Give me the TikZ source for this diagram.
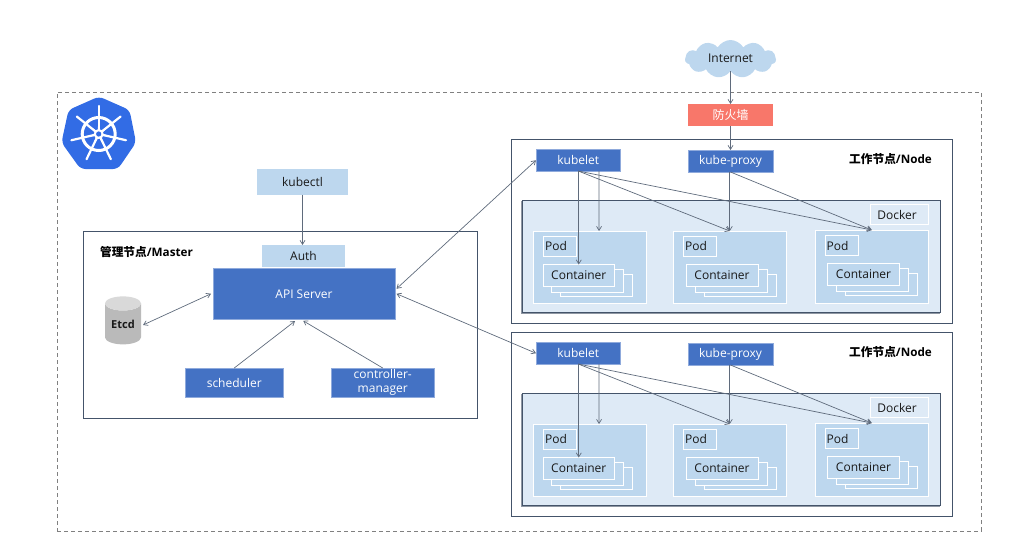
\documentclass[tikz,border=0pt]{standalone}
\usepackage{fontspec}
\setmainfont{Open Sans}
\newfontfamily\cjk{Noto Sans CJK SC}
\usetikzlibrary{arrows.meta,shapes.geometric,shapes.symbols}
\definecolor{kblue}{HTML}{4472C4}
\definecolor{kpale}{HTML}{BDD7EE}
\definecolor{kpanel}{HTML}{DEEAF6}
\definecolor{kdark}{HTML}{44546A}
\definecolor{kline}{HTML}{5F6B7C}
\definecolor{kred}{HTML}{F8776A}
\definecolor{klogo}{HTML}{326CE5}
\tikzset{
  base/.style={inner sep=0pt,outer sep=0pt,align=center,font=\fontsize{12}{13.5}\selectfont,text=black!90},
  darkbox/.style={base,fill=kblue,draw=kblue!60,line width=.5pt,text=white},
  palebox/.style={base,fill=kpale},
  whitebox/.style={base,fill=kpale,draw=white,line width=1pt},
  framebox/.style={base,draw=kdark,line width=1pt},
  panelbox/.style={base,fill=kpanel,draw=kdark,line width=1pt},
  docbox/.style={base,fill=kpanel,draw=white,line width=1pt},
  redbox/.style={base,fill=kred,text=white},
  title/.style={font=\fontsize{11.7}{13}\selectfont\bfseries,inner sep=0pt,text=black},
  conn/.style={draw=kline,line width=.7pt,-{Straight Barb[length=4pt,width=5pt]}},
  conn2/.style={draw=kline,line width=.7pt,{Straight Barb[length=4pt,width=5pt]}-{Straight Barb[length=4pt,width=5pt]}}
}
\newcommand\bx[7]{%
  \pgfmathsetmacro\bxw{#5-#3}\pgfmathsetmacro\bxh{#6-#4}%
  \pgfmathsetmacro\bxx{(#5+#3)/2}\pgfmathsetmacro\bxy{(#6+#4)/2}%
  \node[#1,minimum width=\bxw pt,minimum height=\bxh pt] (#2) at (\bxx,\bxy) {#7};}
\newcommand\podtxt{Pod\hspace*{8pt}}
\newcommand\workernode[2]{% prefix, y shift
\begin{scope}[yshift=-#2pt]
  \bx{framebox}{#1frame}{511.5}{139.5}{952.5}{323}{}
  \fill[kline!70] (521,201) rectangle (940,313.5);
  \bx{panelbox}{#1panel}{522}{200}{940.5}{312.5}{}
  \bx{docbox}{#1docker}{870}{204.5}{928}{224.5}{Docker\hspace*{4pt}}
  \bx{whitebox}{#1podA}{533}{231}{646.5}{303}{}
  \bx{whitebox}{#1podB}{673.5}{231}{786}{303}{}
  \bx{whitebox}{#1podC}{815.5}{230}{928}{303}{}
  \bx{whitebox}{#1plA}{543.5}{236.5}{576.5}{256}{\podtxt}
  \bx{whitebox}{#1plB}{683.5}{236.5}{716.5}{256}{\podtxt}
  \bx{whitebox}{#1plC}{825}{235.5}{858}{255.5}{\podtxt}
  \bx{whitebox}{#1cAc}{560.5}{274}{632.5}{296.5}{}
  \bx{whitebox}{#1cAb}{551.5}{269.5}{623.5}{292}{}
  \bx{whitebox}{#1cA}{543}{264.5}{614.5}{286.5}{Container}
  \bx{whitebox}{#1cBc}{704}{274}{776}{296.5}{}
  \bx{whitebox}{#1cBb}{695}{269.5}{767}{292}{}
  \bx{whitebox}{#1cB}{686}{264.5}{758}{286.5}{Container}
  \bx{whitebox}{#1cCc}{845.5}{273}{917.5}{295.5}{}
  \bx{whitebox}{#1cCb}{836.5}{268.5}{908.5}{291}{}
  \bx{whitebox}{#1cC}{827.5}{263.5}{899.5}{285.5}{Container}
  \bx{darkbox}{#1kl}{536}{149.5}{620.5}{171}{kubelet}
  \bx{darkbox}{#1kp}{688}{150}{773}{172}{kube-proxy}
  \node[title] (#1title) at (890.5,159) {{\cjk 工作节点}/Node};
  \draw[conn] (#1cA.north |- #1kl.south) -- (#1cA.north);
  \draw[conn] ([xshift=20.7pt]#1kl.south) -- ([xshift=9.3pt]#1podA.north);
  \draw[conn] (#1kl.south) -- (#1podB.north);
  \draw[conn] (#1kl.south) -- (#1podC.north);
  \draw[conn] (#1podB.north |- #1kp.south) -- (#1podB.north);
  \draw[conn] (#1kp.south) -- (#1podC.north);
\end{scope}}
\begin{document}
\begin{tikzpicture}[x=1pt,y=-1pt]
\useasboundingbox (0,0) rectangle (1016,549);
\bx{base,draw=black!50,dash pattern=on 4pt off 3pt,line width=1pt}{outer}{57}{92}{981}{531}{}
% logo
\fill[klogo,rounded corners=5pt] (99,96.5) -- (129.5,110) -- (136,142.5) -- (118,169) -- (80.5,169) -- (61.5,142.5) -- (68.5,110) -- cycle;
\begin{scope}[shift={(98.7,134)}]
  \draw[white,line width=3pt] (0,0) circle (16.5);
  \foreach \i in {0,...,6}{
    \pgfmathsetmacro\a{-90+\i*360/7}
    \draw[white,line width=2.2pt,line cap=round] (\a:4) -- (\a:28);
    \fill[white] (\a+90:1.3) -- (\a:16) -- (\a-90:1.3) -- cycle;
  }
  \fill[white] (0,0) circle (5);
  \fill[klogo] (0,0) circle (2.6);
\end{scope}
% master
\bx{framebox}{master}{83.5}{231}{477.5}{418.5}{}
\node[title] (mastertitle) at (146.5,252) {{\cjk 管理节点}/Master};
\bx{palebox}{kubectl}{257}{169}{348}{194.5}{kubectl}
\bx{palebox}{auth}{262}{245}{345}{267}{Auth}
\bx{darkbox}{api}{213}{268}{395}{319.5}{API Server}
\bx{darkbox}{sched}{185.5}{368}{283}{397}{scheduler}
\bx{darkbox}{ctrl}{331.5}{368}{434}{397}{\raisebox{-1.5pt}{controller-}\\\raisebox{-1.5pt}{manager}}
\node[base,cylinder,shape border rotate=90,aspect=0.6,minimum width=36pt,minimum height=48pt,
  cylinder uses custom fill,cylinder end fill=black!15,cylinder body fill=black!27,
  font=\fontsize{11}{12}\selectfont\bfseries] (etcd) at (123,324) {Etcd};
% internet
\node[base,cloud,cloud puffs=11,cloud puff arc=120,aspect=2.4,fill=kpale,minimum width=91pt,minimum height=38pt] (inet) at (730.5,59) {\raisebox{2pt}{Internet}};
\bx{redbox}{fw}{688}{104}{773}{126}{{\cjk 防火墙}}
\workernode{wa}{0}
\workernode{wb}{193}
% connectors
\draw[conn] (inet.south) -- (fw.north);
\draw[conn] (fw.south) -- (wakp.north);
\draw[conn] (kubectl.south) -- (kubectl.south |- auth.north);
\draw[conn2] ([shift={(2pt,-1pt)}]etcd.east) -- ([xshift=-2pt]api.west);
\draw[conn,shorten >=2.5pt] (sched.north) -- ([xshift=-7pt]api.south);
\draw[conn,shorten >=2.5pt] (ctrl.north) -- ([xshift=-3pt]api.south);
\draw[conn2] ([yshift=5pt,xshift=1.5pt]api.east) -- (wakl.west);
\draw[conn2] ([xshift=1.5pt]api.east) -- (wbkl.west);
\end{tikzpicture}
\end{document}
